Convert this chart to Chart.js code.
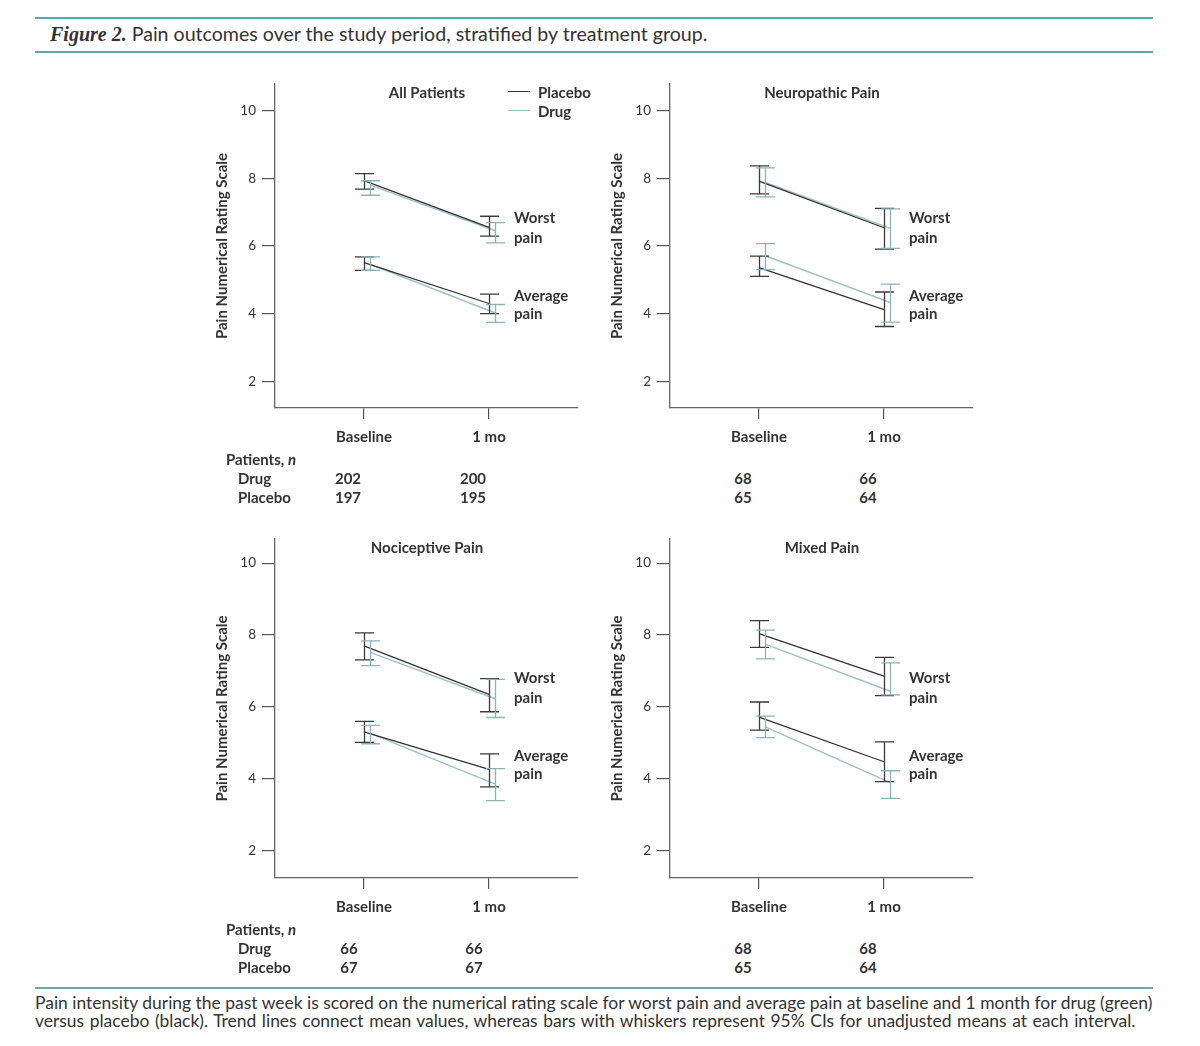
<!DOCTYPE html>
<html>
<head>
<meta charset="utf-8">
<script src="https://cdn.jsdelivr.net/npm/chart.js@4.4.0/dist/chart.umd.min.js"></script>
<style>
  body { margin: 0; background: #fff; }
  #page { position: relative; width: 1200px; height: 1046px; overflow: hidden; font-family: Lato, sans-serif; color: #333; }
  .t { position: absolute; white-space: nowrap; }
  canvas { position: absolute; }
  .rule { position: absolute; left: 35px; width: 1118px; background: #5aa9a9; }
  .leg { position: absolute; height: 1.3px; width: 22px; }
</style>
</head>
<body>
<div id="page">
  <div class="rule" style="top:17px;height:2px"></div>
  <div class="rule" style="top:51px;height:2px"></div>
  <div class="rule" style="top:987px;height:1.5px;background:#6aa9a9"></div>
</div>
<script>
// time points and panels
const timepoints = ['Baseline', '1 mo'];
const panelTitles = ['All Patients', 'Neuropathic Pain', 'Nociceptive Pain', 'Mixed Pain'];
const yTicks = [2, 4, 6, 8, 10];

// mean values per panel: [baseline, 1 mo]
const placeboWorst = [[7.93, 6.55], [7.92, 6.54], [7.70, 6.35], [8.04, 6.86]];
const drugWorst    = [[7.80, 6.45], [7.88, 6.52], [7.52, 6.23], [7.75, 6.44]];
const placeboAvg   = [[5.51, 4.30], [5.36, 4.12], [5.31, 4.27], [5.72, 4.48]];
const drugAvg      = [[5.46, 4.02], [5.71, 4.33], [5.27, 3.86], [5.45, 3.90]];

// 95% CI per panel: [[lo, hi] baseline, [lo, hi] 1 mo]
const placeboWorstCI = [[[7.68, 8.14], [6.29, 6.88]], [[7.54, 8.37], [5.91, 7.11]], [[7.31, 8.06], [5.87, 6.79]], [[7.66, 8.40], [6.32, 7.38]]];
const drugWorstCI    = [[[7.50, 7.93], [6.09, 6.69]], [[7.45, 8.31], [5.93, 7.10]], [[7.15, 7.84], [5.71, 6.77]], [[7.34, 8.14], [6.34, 7.23]]];
const placeboAvgCI   = [[[5.28, 5.68], [4.00, 4.58]], [[5.10, 5.70], [3.62, 4.64]], [[5.02, 5.60], [3.78, 4.70]], [[5.36, 6.14], [3.93, 5.03]]];
const drugAvgCI      = [[[5.28, 5.68], [3.74, 4.27]], [[5.30, 6.07], [3.75, 4.87]], [[4.98, 5.49], [3.40, 4.29]], [[5.15, 5.75], [3.46, 4.23]]];

// patients, n
const drugN    = [[202, 200], [68, 66], [66, 66], [68, 68]];
const placeboN = [[197, 195], [65, 64], [67, 67], [65, 64]];

const placeboLine = '#333', placeboBar = '#3a3a3a';
const drugLine = '#9fc2c2', drugBar = '#8db4b4';
const page = document.getElementById('page');

// chart area boxes on the page
const boxes = [
  {left: 275, top: 84, bottom: 408, ymin: 1.21, ymax: 10.79},
  {left: 670, top: 84, bottom: 408, ymin: 1.21, ymax: 10.79},
  {left: 275, top: 539, bottom: 878, ymin: 1.25, ymax: 10.67},
  {left: 670, top: 539, bottom: 878, ymin: 1.25, ymax: 10.67}
];

function addText(html, x, y, size, opts) {
  opts = opts || {};
  const d = document.createElement('div');
  d.className = 't';
  d.innerHTML = html;
  d.style.fontSize = size + 'px';
  d.style.lineHeight = size + 'px';
  d.style.left = x + 'px';
  d.style.top = (y - size / 2) + 'px';
  if (opts.bold) d.style.fontWeight = 'bold';
  if (opts.center) d.style.transform = 'translateX(-50%)';
  page.appendChild(d);
  return d;
}

function makeChart(p) {
  const box = boxes[p];
  const h = box.bottom - box.top + 24 + 52;
  const cv = document.createElement('canvas');
  cv.width = 400; cv.height = h;
  cv.style.left = (box.left - 75) + 'px';
  cv.style.top = (box.top - 24) + 'px';
  cv.style.width = '400px'; cv.style.height = h + 'px';
  page.appendChild(cv);

  const series = [
    {mean: placeboWorst[p], ci: placeboWorstCI[p], line: placeboLine, bar: placeboBar, dx: 0},
    {mean: drugWorst[p], ci: drugWorstCI[p], line: drugLine, bar: drugBar, dx: 0.05},
    {mean: placeboAvg[p], ci: placeboAvgCI[p], line: placeboLine, bar: placeboBar, dx: 0},
    {mean: drugAvg[p], ci: drugAvgCI[p], line: drugLine, bar: drugBar, dx: 0.05}
  ];

  const errorBars = {
    id: 'errorBars',
    afterDatasetsDraw(chart) {
      const ctx = chart.ctx, x = chart.scales.x, y = chart.scales.y;
      series.forEach(s => {
        ctx.save();
        ctx.strokeStyle = s.bar;
        ctx.lineWidth = 1.3;
        s.ci.forEach((ci, i) => {
          const px = Math.round(x.getPixelForValue(i + 1 + s.dx)) + 0.5;
          const lo = y.getPixelForValue(ci[0]), hi = y.getPixelForValue(ci[1]);
          ctx.beginPath();
          ctx.moveTo(px, lo); ctx.lineTo(px, hi);
          ctx.moveTo(px - 9.5, lo); ctx.lineTo(px + 9.5, lo);
          ctx.moveTo(px - 9.5, hi); ctx.lineTo(px + 9.5, hi);
          ctx.stroke();
        });
        ctx.restore();
      });
    }
  };

  new Chart(cv, {
    type: 'scatter',
    data: {
      datasets: series.map(s => ({
        data: s.mean.map((v, i) => ({x: i + 1 + s.dx, y: v})),
        showLine: true,
        borderColor: s.line,
        borderWidth: s.line === drugLine ? 1.5 : 1.3,
        pointRadius: 0
      }))
    },
    options: {
      responsive: false,
      animation: false,
      devicePixelRatio: 1,
      layout: {padding: {top: 24, right: 22, left: 0, bottom: 0}},
      plugins: {legend: {display: false}, tooltip: {enabled: false}},
      scales: {
        x: {
          type: 'linear', min: 0.288, max: 2.712,
          afterBuildTicks: s => { s.ticks = [{value: 1}, {value: 2}]; },
          afterFit: s => { s.height = 52; },
          ticks: {
            callback: (v, i) => timepoints[i],
            font: {family: 'Lato', size: 15, weight: 'bold'},
            color: '#333', padding: 9, maxRotation: 0, autoSkip: false
          },
          grid: {drawOnChartArea: false, tickLength: 11, color: '#555', lineWidth: 1.2},
          border: {color: '#666', width: 1.3}
        },
        y: {
          min: box.ymin, max: box.ymax,
          afterBuildTicks: s => { s.ticks = yTicks.map(v => ({value: v})); },
          afterFit: s => { s.width = 75; },
          ticks: {font: {family: 'Lato', size: 13.5}, color: '#333', padding: 6},
          grid: {drawOnChartArea: false, tickLength: 13, color: '#555', lineWidth: 1.2},
          border: {color: '#666', width: 1.3},
          title: {
            display: true, text: 'Pain Numerical Rating Scale',
            font: {family: 'Lato', size: 15, weight: 'bold'}, color: '#333',
            padding: {top: 13, bottom: 0}
          }
        }
      }
    },
    plugins: [errorBars]
  });

  // panel title and series labels
  const titleY = box.top + 8;
  addText(panelTitles[p], box.left + 152, titleY, 15, {bold: true, center: true});
  const lx = box.left + 239;
  const off = p < 2 ? 0 : 460;
  addText('Worst', lx, 217 + off, 15, {bold: true});
  addText('pain', lx, 237 + off, 15, {bold: true});
  addText('Average', lx, 295 + off, 15, {bold: true});
  addText('pain', lx, 313 + off, 15, {bold: true});

  // patients table
  const ty = box.bottom + 51;
  if (p % 2 === 0) {
    addText('Patients, <i>n</i>', 226, ty, 15, {bold: true});
    addText('Drug', 238, ty + 19, 15, {bold: true});
    addText('Placebo', 238, ty + 38, 15, {bold: true});
  }
  [0, 1].forEach(i => {
    const cx = box.left + 89 + i * 125 - 16 + (p === 2 ? 1 : 0);
    addText(String(drugN[p][i]), cx, ty + 19, 15, {bold: true, center: true});
    addText(String(placeboN[p][i]), cx, ty + 38, 15, {bold: true, center: true});
  });
}

// header
addText('<span style="font-family:\'Liberation Serif\',serif;font-style:italic;font-weight:bold;font-size:20px">Figure 2.</span> Pain outcomes over the study period, stratified by treatment group.', 50, 34, 19.6);

[0, 1, 2, 3].forEach(makeChart);

// legend
const legTop = document.createElement('div');
legTop.className = 'leg'; legTop.style.left = '508px'; legTop.style.top = '90.5px'; legTop.style.background = placeboLine;
page.appendChild(legTop);
const legDrug = document.createElement('div');
legDrug.className = 'leg'; legDrug.style.left = '508px'; legDrug.style.top = '109.5px'; legDrug.style.background = drugLine;
page.appendChild(legDrug);
addText('Placebo', 538, 92, 15, {bold: true});
addText('Drug', 538, 111, 15, {bold: true});

// footer, fitted to the rule width
const f1 = addText('Pain intensity during the past week is scored on the numerical rating scale for worst pain and average pain at baseline and 1 month for drug (green)', 35, 1003, 15);
const f2 = addText('versus placebo (black). Trend lines connect mean values, whereas bars with whiskers represent 95% CIs for unadjusted means at each interval.', 35, 1021, 15);
const fs = 15 * 1118 / f1.offsetWidth;
[[f1, 1003], [f2, 1021]].forEach(([d, y]) => {
  d.style.fontSize = fs + 'px';
  d.style.lineHeight = fs + 'px';
  d.style.top = (y - fs / 2) + 'px';
});
const gaps = f2.textContent.split(' ').length - 1;
f2.style.wordSpacing = ((1100 - f2.offsetWidth) / gaps) + 'px';
</script>
</body>
</html>
